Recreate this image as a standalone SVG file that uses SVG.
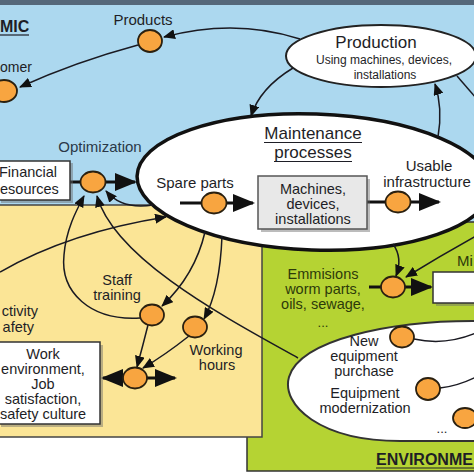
<svg xmlns="http://www.w3.org/2000/svg" width="474" height="474" viewBox="0 0 474 474">
<defs>
<style>
.t{font-family:"Liberation Sans",Arial,sans-serif;fill:#1e1e26}
.c{fill:#f8a540;stroke:#2a2010;stroke-width:1.8}
.box{fill:#fff;stroke:#333;stroke-width:1.5}
.sh{fill:#6a6a6a;opacity:.45}
.ln{fill:none;stroke:#1a1a22;stroke-width:1.5}
.thk{fill:none;stroke:#111;stroke-width:3}
.ul{stroke:#1e1e26;stroke-width:1.2}
.g{fill:#2d3a0a}
</style>
<marker id="a" viewBox="0 0 12 10" refX="11" refY="5" markerWidth="12" markerHeight="10" markerUnits="userSpaceOnUse" orient="auto"><path d="M0,0 L12,5 L0,10 z" fill="#111"/></marker>
<marker id="A" viewBox="0 0 22 18" refX="20" refY="9" markerWidth="22" markerHeight="18" markerUnits="userSpaceOnUse" orient="auto-start-reverse"><path d="M0,0 L22,9 L0,18 z" fill="#111"/></marker>
</defs>
<g id="background">
<rect x="0" y="0" width="474" height="474" fill="#fff"/>
<rect x="0" y="0" width="474" height="5" fill="#55687a"/>
<rect x="0" y="5" width="474" height="235" fill="#acd8ef"/>
<rect x="247" y="222" width="232" height="249" fill="#b5d333" stroke="#333" stroke-width="1.5"/>
<rect x="-2" y="205" width="264" height="232" fill="#fbe596" stroke="#444" stroke-width="1.5"/>
</g>
<g id="maintenance">
<ellipse cx="314" cy="182" rx="177" ry="68" transform="rotate(2 314 182)" fill="#fff" stroke="#111" stroke-width="3.5"/>
</g>
<g id="production">
<ellipse cx="381" cy="56" rx="95" ry="31" fill="#fff" stroke="#222" stroke-width="2"/>
</g>
<g id="investments">
<path d="M480,321 C390,320 300,340 289,377 C281,405 320,441 400,441 L480,441" fill="#fff" stroke="#333" stroke-width="2"/>
</g>
<g id="connectors">
<path class="ln" d="M300,39 Q235,18 164,37" marker-end="url(#a)"/>
<path class="ln" d="M138,45 Q75,62 20,87" marker-end="url(#a)"/>
<path class="ln" d="M293,68 Q260,88 251,116" marker-end="url(#a)"/>
<path class="ln" d="M438,137 Q443,108 435,84" marker-end="url(#a)"/>
<path class="ln" d="M457,76 L476,98"/>
<line class="thk" x1="70" y1="182" x2="82" y2="182"/>
<line class="thk" x1="105" y1="182" x2="135" y2="182" marker-end="url(#A)"/>
<path class="ln" d="M153,205 Q122,210 106,191" marker-end="url(#a)"/>
<path class="ln" d="M140,318 C90,321 60,292 64,255 C66,230 76,211 84,196" marker-end="url(#a)"/>
<path class="ln" d="M298,358 C230,320 115,260 97,196" marker-end="url(#a)"/>
<path class="ln" d="M0,272 Q70,232 166,217" marker-end="url(#a)"/>
<path class="ln" d="M205,232 Q195,275 162,306" marker-end="url(#a)"/>
<path class="ln" d="M222,236 Q220,290 204,319" marker-end="url(#a)"/>
<path class="ln" d="M148,325 Q143,345 137,367" marker-end="url(#a)"/>
<path class="ln" d="M189,336 Q165,355 143,368" marker-end="url(#a)"/>
<line class="thk" x1="103" y1="378" x2="175" y2="378" marker-start="url(#A)" marker-end="url(#A)"/>
<line class="thk" x1="180" y1="203" x2="253" y2="203" marker-end="url(#A)"/>
<line class="thk" x1="367" y1="202" x2="439" y2="202" marker-end="url(#A)"/>
<path class="ln" d="M393,244 Q403,258 396,276" marker-end="url(#a)"/>
<path class="ln" d="M476,236 Q440,256 406,277" marker-end="url(#a)"/>
<line class="thk" x1="369" y1="287" x2="382" y2="287"/>
<line class="thk" x1="404" y1="287" x2="431" y2="287" marker-end="url(#A)"/>
<path class="ln" d="M414,339 Q445,346 476,333"/>
<path class="ln" d="M440,388 Q458,386 476,377"/>
</g>
<g id="economic-label">
<text class="t" x="0" y="32" font-size="16" font-weight="bold">MIC</text>
<line class="ul" x1="0" y1="35" x2="29" y2="35"/>
</g>
<g id="products">
<text class="t" x="143" y="25" font-size="15" text-anchor="middle">Products</text>
<ellipse class="c" cx="150" cy="41" rx="12" ry="11"/>
</g>
<g id="customer">
<text class="t" x="0" y="72" font-size="14">omer</text>
<ellipse class="c" cx="4" cy="91" rx="13" ry="11"/>
</g>
<g id="production-text">
<text class="t" x="376" y="48" font-size="17" text-anchor="middle">Production</text>
<text class="t" x="384" y="64" font-size="12" text-anchor="middle">Using machines, devices,</text>
<text class="t" x="385" y="79" font-size="12" text-anchor="middle">installations</text>
</g>
<g id="optimization">
<text class="t" x="100" y="152" font-size="15" text-anchor="middle" style="fill:#2a3848">Optimization</text>
<ellipse class="c" cx="93" cy="182" rx="12.5" ry="10.5"/>
</g>
<g id="financial">
<rect class="sh" x="1" y="163" width="72" height="40"/>
<rect class="box" x="-2" y="161" width="72" height="39"/>
<text class="t" x="-1" y="177" font-size="14.5">Financial</text>
<text class="t" x="0" y="194" font-size="14.5">esources</text>
</g>
<g id="maintenance-text">
<text class="t" x="313" y="139" font-size="17" text-anchor="middle">Maintenance</text>
<line class="ul" x1="264" y1="142.5" x2="362" y2="142.5"/>
<text class="t" x="313" y="158" font-size="17" text-anchor="middle">processes</text>
<line class="ul" x1="274" y1="161.5" x2="352" y2="161.5"/>
</g>
<g id="spare-parts">
<text class="t" x="195" y="188" font-size="15" text-anchor="middle">Spare parts</text>
<ellipse class="c" cx="214" cy="203" rx="12.5" ry="10.5"/>
</g>
<g id="machines">
<rect class="sh" x="261" y="179" width="109" height="53"/>
<rect x="258" y="176" width="109" height="53" fill="#e8e8e8" stroke="#555" stroke-width="1.5"/>
<text class="t" x="313" y="194" font-size="14.5" text-anchor="middle">Machines,</text>
<text class="t" x="313" y="209" font-size="14.5" text-anchor="middle">devices,</text>
<text class="t" x="313" y="224" font-size="14.5" text-anchor="middle">installations</text>
</g>
<g id="usable">
<text class="t" x="429" y="171" font-size="15" text-anchor="middle">Usable</text>
<text class="t" x="427" y="187" font-size="15" text-anchor="middle">infrastructure</text>
<ellipse class="c" cx="398" cy="202" rx="12.5" ry="10.5"/>
</g>
<g id="staff-training">
<text class="t" x="117" y="285" font-size="14.5" text-anchor="middle">Staff</text>
<text class="t" x="117" y="300" font-size="14.5" text-anchor="middle">training</text>
<ellipse class="c" cx="152" cy="315" rx="12" ry="10.5"/>
</g>
<g id="working-hours">
<text class="t" x="216" y="355" font-size="14.5" text-anchor="middle">Working</text>
<text class="t" x="217" y="370" font-size="14.5" text-anchor="middle">hours</text>
<ellipse class="c" cx="195" cy="327" rx="12" ry="10.5"/>
</g>
<g id="productivity">
<text class="t" x="38" y="316" font-size="14.5" text-anchor="end">ctivity</text>
<text class="t" x="34" y="332" font-size="14.5" text-anchor="end">afety</text>
</g>
<g id="work-environment">
<rect class="sh" x="1" y="345" width="102" height="82"/>
<rect class="box" x="-2" y="342" width="102" height="82"/>
<text class="t" x="43" y="359" font-size="14.5" text-anchor="middle">Work</text>
<text class="t" x="43" y="374" font-size="14.5" text-anchor="middle">environment,</text>
<text class="t" x="43" y="389" font-size="14.5" text-anchor="middle">Job</text>
<text class="t" x="43" y="404" font-size="14.5" text-anchor="middle">satisfaction,</text>
<text class="t" x="43" y="419" font-size="14.5" text-anchor="middle">safety culture</text>
<ellipse class="c" cx="135" cy="378" rx="12" ry="10.5"/>
</g>
<g id="emissions">
<text class="t g" x="323" y="279" font-size="14.5" text-anchor="middle">Emmisions</text>
<text class="t g" x="323" y="294" font-size="14.5" text-anchor="middle">worm parts,</text>
<text class="t g" x="323" y="309" font-size="14.5" text-anchor="middle">oils, sewage,</text>
<text class="t g" x="323" y="327" font-size="13" text-anchor="middle">...</text>
<ellipse class="c" cx="393" cy="287" rx="12" ry="10.5"/>
</g>
<g id="mi-box">
<text class="t g" x="457" y="266" font-size="15">Mi</text>
<rect class="sh" x="436" y="275" width="45" height="31"/>
<rect class="box" x="433" y="272" width="45" height="31"/>
</g>
<g id="investment-items">
<text class="t" x="364" y="346" font-size="14.5" text-anchor="middle">New</text>
<text class="t" x="364" y="361" font-size="14.5" text-anchor="middle">equipment</text>
<text class="t" x="364" y="376" font-size="14.5" text-anchor="middle">purchase</text>
<text class="t" x="365" y="398" font-size="14.5" text-anchor="middle">Equipment</text>
<text class="t" x="365" y="413" font-size="14.5" text-anchor="middle">modernization</text>
<text class="t" x="442" y="433" font-size="13" text-anchor="middle">...</text>
<ellipse class="c" cx="402" cy="337" rx="12" ry="10.5"/>
<ellipse class="c" cx="428" cy="389" rx="12" ry="11"/>
<ellipse class="c" cx="465" cy="418" rx="12" ry="10"/>
</g>
<g id="environment-label">
<text class="t" x="376" y="465" font-size="16" font-weight="bold">ENVIRONME</text>
<line class="ul" x1="376" y1="468" x2="474" y2="468"/>
</g>
</svg>
